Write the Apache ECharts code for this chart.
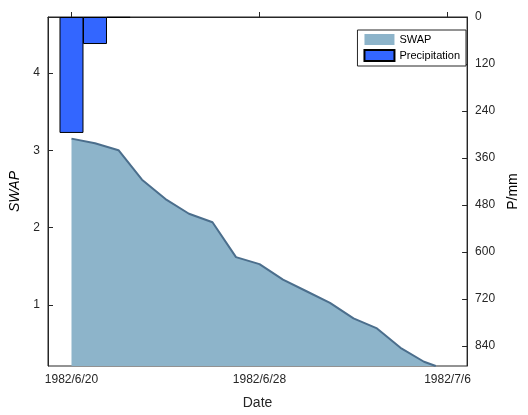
<!DOCTYPE html><html><head><meta charset="utf-8"><script src="https://cdn.jsdelivr.net/npm/echarts@6/dist/echarts.min.js"></script></head><body style="margin:0"><div id="c" style="width:528px;height:415px"></div><script>
const swapDates=['1982-06-20','1982-06-21','1982-06-22','1982-06-23','1982-06-24','1982-06-25','1982-06-26','1982-06-27','1982-06-28','1982-06-29','1982-06-30','1982-07-01','1982-07-02','1982-07-03','1982-07-04','1982-07-05','1982-07-05T12:00'];
const swapVals=[3.15,3.09,3.0,2.62,2.37,2.18,2.07,1.62,1.53,1.33,1.18,1.03,0.83,0.70,0.45,0.27,0.215];
const precDates=['1982-06-20','1982-06-21','1982-06-22'];
const precVals=[296,69,2];
const leftTicks=[1,2,3,4];
const rightTicks=[0,120,240,360,480,600,720,840];
const xTicks=['1982-06-20','1982-06-28','1982-07-06'];
const T=s=>new Date(s.length===10?s+'T00:00':s).getTime();
const fmt=v=>{const d=new Date(v);return d.getFullYear()+'/'+(d.getMonth()+1)+'/'+d.getDate();};
const xt=xTicks.map(T);
const ch=echarts.init(document.getElementById('c'));
const ax={color:'#262626',fontSize:12,fontFamily:'Liberation Sans'};
ch.setOption({animation:false,
grid:{left:42,right:56,top:17,bottom:48,show:true,borderColor:'#262626',borderWidth:1},
legend:{right:62,top:30,orient:'vertical',itemWidth:30,itemHeight:11,itemGap:4,borderColor:'#262626',borderWidth:1,padding:[4,6],backgroundColor:'#fff',textStyle:{fontSize:11,fontFamily:'Liberation Sans',color:'#000'},data:[{name:'SWAP',icon:'rect'},{name:'Precipitation',icon:'rect'}]},
xAxis:{type:'value',min:T('1982-06-19'),max:T('1982-07-06T20:00'),name:'Date',nameLocation:'middle',nameGap:30,nameTextStyle:{fontSize:14,fontFamily:'Liberation Sans',color:'#262626'},
axisLine:{lineStyle:{color:'#262626'}},axisTick:{show:true,inside:true,customValues:xt},splitLine:{show:false},
axisLabel:{customValues:xt,formatter:fmt,...ax,hideOverlap:false}},
yAxis:[{type:'value',min:0.215,max:4.72,name:'SWAP',nameLocation:'middle',nameGap:26,nameTextStyle:{fontSize:14,fontStyle:'italic',fontFamily:'Liberation Sans',color:'#000'},axisLine:{show:true,lineStyle:{color:'#262626'}},axisTick:{show:true,inside:true,customValues:leftTicks},axisLabel:{customValues:leftTicks,...ax},splitLine:{show:false}},
{type:'value',min:0,max:891,inverse:true,name:'P/mm',nameLocation:'middle',nameGap:36,nameRotate:90,nameTextStyle:{fontSize:14,fontFamily:'Liberation Sans',color:'#000'},axisLine:{show:true,lineStyle:{color:'#262626'}},axisTick:{show:true,inside:true,customValues:rightTicks},axisLabel:{customValues:rightTicks,...ax},splitLine:{show:false}}],
series:[{name:'SWAP',type:'line',data:swapDates.map((d,i)=>[T(d),swapVals[i]]),symbol:'none',lineStyle:{color:'#4b6e8c',width:2},itemStyle:{color:'#8db4ca'},areaStyle:{color:'#8db4ca',opacity:1,origin:'start'}},
{name:'Precipitation',type:'bar',yAxisIndex:1,barWidth:24,data:precDates.map((d,i)=>[T(d),precVals[i]]),itemStyle:{color:'#3366ff',borderColor:'#000',borderWidth:1}}]});
</script></body></html>
